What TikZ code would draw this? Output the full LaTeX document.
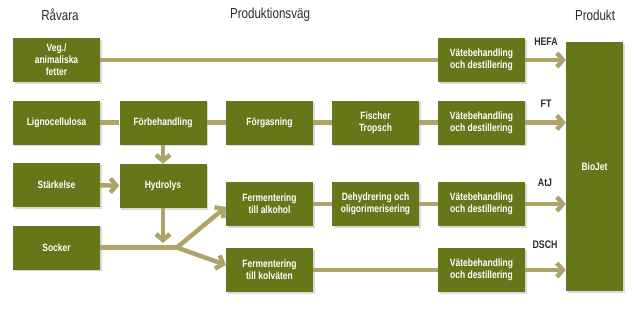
\documentclass[tikz,border=0pt]{standalone}
\usepackage{fontspec}
\setmainfont{Liberation Sans}[FakeStretch=0.8]
\usetikzlibrary{arrows.meta,shadows}
\definecolor{BjGreen}{HTML}{66771A}
\definecolor{BjTan}{HTML}{B0A36A}
\definecolor{BjInk}{HTML}{2B2B2B}
\tikzset{
  bjbox/.style={
    fill=BjGreen,
    draw=none,
    text=white,
    font=\fontsize{10.6}{12}\selectfont\bfseries,
    minimum width=87pt,
    minimum height=44pt,
    align=center,
    inner sep=2pt,
    drop shadow={opacity=0.3,shadow xshift=1.5pt,shadow yshift=-1.5pt}
  },
  bjline/.style={line width=4.5pt,draw=BjTan},
  bjarrow/.style={bjline,-{Straight Barb[length=6pt,width=14pt]}},
  bjlabel/.style={text=BjInk,font=\fontsize{11}{13}\selectfont\bfseries},
  bjhead/.style={text=BjInk,font=\fontsize{14.5}{16}\selectfont}
}
\begin{document}
\begin{tikzpicture}[x=1pt,y=-1pt]
    \useasboundingbox (0,0) rectangle (640,311);
    % headings
    \node[bjhead] (hraw) at (60,15) {Råvara};
    \node[bjhead] (hway) at (270,15) {Produktionsväg};
    \node[bjhead] (hprod) at (595,15) {Produkt};
    % raw materials
    \node[bjbox] (veg) at (56.5,60) {Veg./\\animaliska\\fetter};
    \node[bjbox] (ligno) at (56.5,122.5) {Lignocellulosa};
    \node[bjbox] (stark) at (56.5,185) {Stärkelse};
    \node[bjbox] (socker) at (56.5,247.5) {Socker};
    % process steps
    \node[bjbox] (forb) at (163,122.5) {Förbehandling};
    \node[bjbox] (forg) at (269.5,122.5) {Förgasning};
    \node[bjbox] (fischer) at (375.5,122.5) {Fischer\\Tropsch};
    \node[bjbox] (hydro) at (163,186) {Hydrolys};
    \node[bjbox] (ferma) at (269.5,204) {Fermentering\\till alkohol};
    \node[bjbox] (dehyd) at (375.5,204) {Dehydrering och\\oligorimerisering};
    \node[bjbox] (fermk) at (269.5,270) {Fermentering\\till kolväten};
    \node[bjbox] (vate1) at (481.5,60) {Vätebehandling\\och destillering};
    \node[bjbox] (vate2) at (481.5,122.5) {Vätebehandling\\och destillering};
    \node[bjbox] (vate3) at (481.5,204) {Vätebehandling\\och destillering};
    \node[bjbox] (vate4) at (481.5,270) {Vätebehandling\\och destillering};
    % product
    \node[bjbox,minimum width=57pt,minimum height=249pt] (biojet) at (594.5,166.5) {BioJet};
    % route labels
    \node[bjlabel] (hefa) at (546,42) {HEFA};
    \node[bjlabel] (ft) at (546,104) {FT};
    \node[bjlabel] (atj) at (545,183) {AtJ};
    \node[bjlabel] (dsch) at (545,245) {DSCH};
    \coordinate (split) at (177,247.5);
    \coordinate (hyend) at (163,243);
    % connections
    \draw[bjline] (veg) -- (vate1);
    \draw[bjline] (ligno) -- (forb);
    \draw[bjline] (forb) -- (forg);
    \draw[bjline] (forg) -- (fischer);
    \draw[bjline] (fischer) -- (vate2);
    \draw[bjline] (ferma) -- (dehyd);
    \draw[bjline] (dehyd) -- (vate3);
    \draw[bjline] (fermk) -- (vate4);
    \draw[bjline] (socker.east) -- (split);
    \draw[bjarrow] (forb) -- (hydro);
    \draw[bjarrow] (stark) -- (hydro);
    \draw[bjarrow] (hydro.south) -- (hyend);
    \draw[bjarrow] (split) -- ([yshift=-3pt]ferma.west);
    \draw[bjarrow] (split) -- ([yshift=5pt]fermk.west);
    \draw[bjarrow] (vate1) -- (vate1 -| biojet.west);
    \draw[bjarrow] (vate2) -- (vate2 -| biojet.west);
    \draw[bjarrow] (vate3) -- (vate3 -| biojet.west);
    \draw[bjarrow] (vate4) -- (vate4 -| biojet.west);
\end{tikzpicture}
\end{document}
